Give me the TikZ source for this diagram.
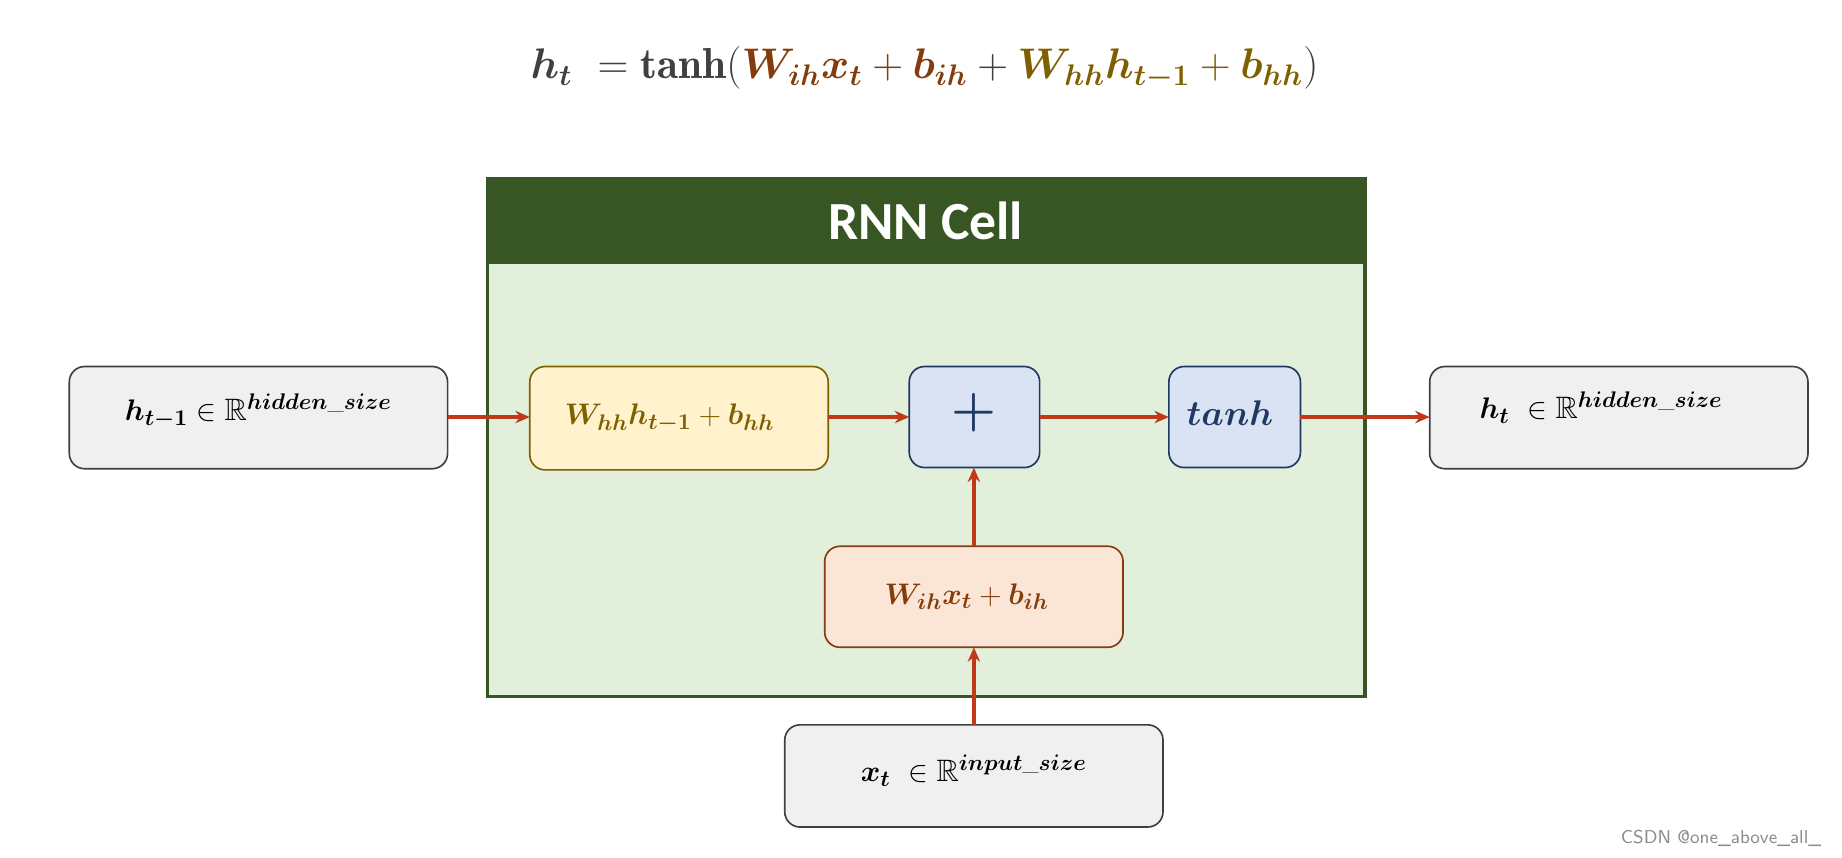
\documentclass[tikz,border=0pt]{standalone}
\usepackage{amsmath,amssymb,bm}
\usepackage{fontspec}
\newfontfamily\carl{Carlito}
\usetikzlibrary{arrows.meta}
\definecolor{dg}{HTML}{375623}
\definecolor{lg}{HTML}{E2EFDA}
\definecolor{bx}{HTML}{F0F0F0}
\definecolor{yf}{HTML}{FFF2CC}
\definecolor{yd}{HTML}{7F6000}
\definecolor{bf}{HTML}{DAE3F3}
\definecolor{bd}{HTML}{1F3864}
\definecolor{of}{HTML}{FBE5D6}
\definecolor{od}{HTML}{843C0C}
\definecolor{ar}{HTML}{C0391B}
\definecolor{tg}{HTML}{404040}
\begin{document}
\begin{tikzpicture}[x=0.02cm,y=-0.02cm,
  box/.style={draw=#1,rounded corners=0.26cm,line width=0.8pt},
  arr/.style={draw=ar,line width=1.6pt,-{Stealth[length=7pt,width=6pt]}},
  lab/.style={font=\fontsize{15}{18}\selectfont}]
\useasboundingbox (0,0) rectangle (1568,730);
\node[text=tg,font=\fontsize{21}{25}\selectfont] (title) at (787,58)
 {$\bm{h_t}\ =\mathbf{tanh}(\textcolor{od}{\bm{W_{ih}x_t}+\bm{b_{ih}}}+\textcolor{yd}{\bm{W_{hh}h_{t-1}}+\bm{b_{hh}}})$};
% cell
\draw[dg,fill=lg,line width=1.8pt] (415,152) rectangle (1162,593);
\fill[dg] (415,152) rectangle (1162,225);
\node[text=white,font=\carl\bfseries\fontsize{26}{30}\selectfont] (cell) at (788,188) {RNN Cell};
% boxes
\draw[box=black!75,fill=bx] (59,312) rectangle (381,399);
\node[lab] (hp) at (220,350) {$\bm{h_{t-1}}\in\mathbb{R}^{\bm{hidden\_size}}$};
\draw[box=yd,fill=yf] (451,312) rectangle (705,400);
\node[lab,text=yd] (whh) at (570,356) {$\bm{W_{hh}h_{t-1}}+\bm{b_{hh}}$};
\draw[box=bd,fill=bf] (774,312) rectangle (885,398);
\node[text=bd,font=\fontsize{28}{30}\selectfont] (plus) at (829,351) {$\bm{+}$};
\draw[box=bd,fill=bf] (995,312) rectangle (1107,398);
\node[lab,text=bd,font=\fontsize{17}{20}\selectfont] (tanh) at (1047,352) {$\bm{tanh}$};
\draw[box=black!75,fill=bx] (1217,312) rectangle (1539,399);
\node[lab] (ht) at (1363,347) {$\bm{h_t}\ \in\mathbb{R}^{\bm{hidden\_size}}$};
\draw[box=od,fill=of] (702,465) rectangle (956,551);
\node[lab,text=od] (wih) at (823,508) {$\bm{W_{ih}x_t}+\bm{b_{ih}}$};
\draw[box=black!75,fill=bx] (668,617) rectangle (990,704);
\node[lab] (xt) at (829,656) {$\bm{x_t}\ \in\mathbb{R}^{\bm{input\_size}}$};
% connectors
\coordinate (a1) at (381,355); \coordinate (a2) at (451,355);
\coordinate (b1) at (705,355); \coordinate (b2) at (774,355);
\coordinate (c1) at (885,355); \coordinate (c2) at (995,355);
\coordinate (d1) at (1107,355); \coordinate (d2) at (1217,355);
\coordinate (e1) at (829,465); \coordinate (e2) at (829,398);
\coordinate (f1) at (829,617); \coordinate (f2) at (829,551);
\draw[arr] (a1)--(a2); \draw[arr] (b1)--(b2); \draw[arr] (c1)--(c2);
\draw[arr] (d1)--(d2); \draw[arr] (e1)--(e2); \draw[arr] (f1)--(f2);
\node[text=black!45,font=\sffamily\fontsize{9}{10}\selectfont] (wm) at (1465,714) {CSDN @one\_above\_all\_};
\end{tikzpicture}
\end{document}
